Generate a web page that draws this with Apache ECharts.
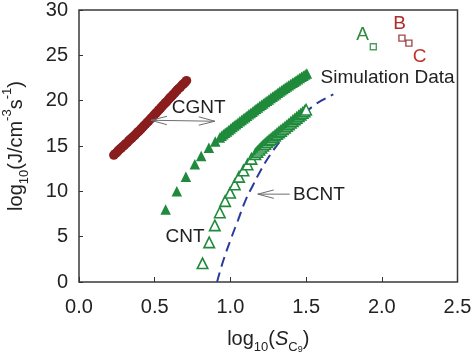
<!DOCTYPE html>
<html><head><meta charset="utf-8">
<script src="https://cdn.jsdelivr.net/npm/echarts@6/dist/echarts.min.js"></script>
<style>html,body{margin:0;padding:0;background:#fff}#c{width:474px;height:360px}</style>
</head><body><div id="c"></div>
<script>
// ---- data ----
const xTicks = [0.0, 0.5, 1.0, 1.5, 2.0, 2.5];
const yTicks = [0, 5, 10, 15, 20, 25, 30];

const cgntX = [0.23,0.24,0.25,0.26,0.27,0.28,0.29,0.30,0.31,0.32,0.33,0.34,0.35,0.36,0.37,0.38,0.39,0.40,0.41,0.42,0.43,0.44,0.45,0.46,0.47,0.48,0.49,0.50,0.51,0.52,0.53,0.54,0.55,0.56,0.57,0.58,0.59,0.60,0.61,0.62,0.63,0.64,0.65,0.66,0.67,0.68,0.69,0.70,0.71];
const cgntY = [14.0,14.15,14.3,14.5,14.65,14.8,14.95,15.1,15.25,15.4,15.6,15.75,15.9,16.05,16.2,16.4,16.55,16.7,16.9,17.05,17.25,17.4,17.6,17.75,17.95,18.1,18.3,18.5,18.65,18.85,19.0,19.2,19.4,19.55,19.75,19.9,20.1,20.3,20.45,20.65,20.8,21.0,21.2,21.35,21.5,21.7,21.85,22.0,22.2];

const cntFilledX = [0.572,0.646,0.706,0.765,0.807,0.858,0.900,0.930,0.942,0.954,0.966,0.978,0.990,1.002,1.014,1.026,1.038,1.050,1.062,1.074,1.086,1.098,1.110,1.122,1.134,1.146,1.158,1.170,1.182,1.194,1.206,1.218,1.230,1.242,1.254,1.266,1.278,1.290,1.302,1.314,1.326,1.338,1.350,1.362,1.374,1.386,1.398,1.410,1.422,1.434,1.446,1.458,1.470,1.482,1.494,1.505];
const cntFilledY = [8.0,10.0,11.6,13.0,13.9,14.8,15.5,15.95,16.12,16.29,16.45,16.61,16.77,16.93,17.09,17.25,17.41,17.56,17.72,17.87,18.03,18.18,18.33,18.49,18.64,18.79,18.95,19.10,19.25,19.40,19.55,19.70,19.85,20.0,20.14,20.29,20.43,20.58,20.72,20.86,21.0,21.14,21.28,21.42,21.56,21.70,21.84,21.97,22.10,22.23,22.37,22.50,22.63,22.76,22.89,23.0];

const cntOpenX = [0.816,0.860,0.897,0.930,0.965,0.998,1.029,1.057,1.086,1.113,1.139,1.165,1.178,1.191,1.204,1.217,1.230,1.243,1.256,1.269,1.282,1.295,1.308,1.321,1.334,1.347,1.360,1.373,1.386,1.399,1.412,1.425,1.438,1.451,1.464,1.477,1.490,1.500];
const cntOpenY = [2.06,4.37,6.24,7.67,8.92,9.84,10.76,11.6,12.3,12.96,13.58,14.1,14.35,14.58,14.8,15.02,15.22,15.42,15.6,15.78,15.96,16.14,16.32,16.5,16.67,16.85,17.02,17.2,17.38,17.56,17.74,17.92,18.1,18.28,18.46,18.64,18.82,19.0];

const bcntX = [0.912,0.95,1.0,1.05,1.1,1.15,1.2,1.25,1.3,1.35,1.4,1.45,1.5,1.55,1.6,1.68];
const bcntY = [0.0,2.2,4.6,6.8,9.0,10.7,12.3,13.7,14.9,16.0,17.1,17.95,18.75,19.45,20.0,20.7];

const simNames = ['A','B','C'];
const simX = [1.944,2.133,2.179];
const simY = [25.95,26.9,26.35];

const zip = (a,b) => a.map((v,i)=>[v,b[i]]);
const FONT = '"Liberation Sans", Arial, sans-serif';
const GREEN = '#1f8a3b', MAROON = '#8a1d1d', BLUE = '#2a3b9c';

const chart = echarts.init(document.getElementById('c'), null, {renderer:'canvas'});
const option = {
  animation: false,
  backgroundColor: '#fff',
  textStyle: {fontFamily: FONT},
  grid: {left: 79, right: 16.5, top: 10, bottom: 78, show: true, borderColor: '#3a3a3a', borderWidth: 1.5, containLabel: false, outerBoundsMode: 'none'},
  xAxis: {
    type: 'value', min: xTicks[0], max: xTicks[xTicks.length-1], interval: 0.5,
    axisLine: {show: false},
    axisTick: {show: true, inside: true, length: 5, lineStyle: {color: '#333', width: 1}},
    splitLine: {show: false},
    axisLabel: {fontSize: 20, color: '#222', margin: 15, fontFamily: FONT, formatter: v => v.toFixed(1)},
    name: '{n|log}{sub|10}{n|(}{i|S}{sub|C}{sub2|9}{n|)}',
    nameLocation: 'middle', nameGap: 42,
    nameTextStyle: {fontFamily: FONT, color: '#222', rich: {
      n: {fontSize: 20, lineHeight: 30, fontFamily: FONT, color: '#222'},
      i: {fontSize: 20, lineHeight: 30, fontStyle: 'italic', fontFamily: FONT, color: '#222'},
      sub: {fontSize: 13, lineHeight: 17, verticalAlign: 'bottom', fontFamily: FONT, color: '#222'},
      sub2: {fontSize: 9, lineHeight: 8, verticalAlign: 'bottom', fontFamily: FONT, color: '#222'}
    }}
  },
  yAxis: {
    type: 'value', min: yTicks[0], max: yTicks[yTicks.length-1], interval: 5,
    axisLine: {show: false},
    axisTick: {show: true, inside: true, length: 4, lineStyle: {color: '#333', width: 1}},
    splitLine: {show: false},
    axisLabel: {fontSize: 20, color: '#222', margin: 11, fontFamily: FONT},
    name: '{n|log}{sub|10}{n|(J/cm}{sup|-3}{n|s}{sup|-1}{n|)}',
    nameLocation: 'middle', nameGap: 48, nameRotate: 90,
    nameTextStyle: {fontFamily: FONT, color: '#222', rich: {
      n: {fontSize: 20, lineHeight: 30, fontFamily: FONT, color: '#222'},
      sub: {fontSize: 13, lineHeight: 17, verticalAlign: 'bottom', fontFamily: FONT, color: '#222'},
      sup: {fontSize: 13, lineHeight: 18, verticalAlign: 'top', fontFamily: FONT, color: '#222'}
    }}
  },
  series: [
    {name: 'BCNT', type: 'line', data: zip(bcntX, bcntY), showSymbol: false, symbol: 'none', smooth: true,
     lineStyle: {color: BLUE, width: 2, type: [10, 6]}, z: 1},
    {name: 'CGNT', type: 'scatter', data: zip(cgntX, cgntY), symbol: 'circle', symbolSize: 9.5,
     itemStyle: {color: MAROON, opacity: 1}, z: 3},
    {name: 'CNT-filled', type: 'scatter', data: zip(cntFilledX, cntFilledY), symbol: 'triangle', symbolSize: 10.5,
     itemStyle: {color: GREEN, opacity: 1}, z: 3},
    {name: 'CNT-open', type: 'scatter', data: zip(cntOpenX, cntOpenY), symbol: 'triangle', symbolSize: 10.5,
     itemStyle: {color: '#fff', borderColor: GREEN, borderWidth: 1.6, opacity: 1}, z: 4},
    {name: 'Sim', type: 'scatter', symbol: 'rect', symbolSize: 6,
     data: simX.map((x,i)=>({value:[x, simY[i]], itemStyle:{color:'#fff', borderColor: i===0?GREEN:MAROON, borderWidth:1.4}})), z: 4}
  ]
};
chart.setOption(option);

// ---- annotations positioned in data coordinates ----
const P = p => chart.convertToPixel({gridIndex: 0}, p);
const texts = [
  {t: 'CGNT', at: [0.79, 19.2], c: '#222'},
  {t: 'BCNT', at: [1.585, 9.58], c: '#222'},
  {t: 'CNT', at: [0.70, 4.96], c: '#222'},
  {t: 'Simulation Data', at: [2.038, 22.58], c: '#222'},
  {t: simNames[0], at: [1.873, 27.3], c: '#2e8b3e'},
  {t: simNames[1], at: [2.117, 28.5], c: '#b02a2a'},
  {t: simNames[2], at: [2.25, 24.8], c: '#c0332f'}
];
const arrows = [
  {from: [0.475, 17.84], to: [0.897, 17.73], both: true},
  {from: [1.392, 9.69], to: [1.181, 9.69], both: false}
];
const g = [];
texts.forEach(o => {
  const p = P(o.at);
  g.push({type: 'text', x: p[0], y: p[1], z: 10,
    style: {text: o.t, fill: o.c, font: '19px ' + FONT, align: 'center', verticalAlign: 'middle', textAlign: 'center', textVerticalAlign: 'middle'}});
});
function head(tip, tail){
  const dx = tip[0]-tail[0], dy = tip[1]-tail[1], L = Math.hypot(dx,dy);
  const ux = dx/L, uy = dy/L, nx = -uy, ny = ux, HL = 16, HW = 4.2;
  return [[tip[0]-HL*ux+HW*nx, tip[1]-HL*uy+HW*ny], tip, [tip[0]-HL*ux-HW*nx, tip[1]-HL*uy-HW*ny]];
}
const ARC = '#6e6e6e';
arrows.forEach(a => {
  const s = P(a.from), e = P(a.to);
  g.push({type:'line', z: 10, shape:{x1:s[0], y1:s[1], x2:e[0], y2:e[1]}, style:{stroke: ARC, lineWidth: 1}});
  g.push({type:'polyline', z: 10, shape:{points: head(e, s)}, style:{stroke: ARC, lineWidth: 1, fill: null}});
  if (a.both) g.push({type:'polyline', z: 10, shape:{points: head(s, e)}, style:{stroke: ARC, lineWidth: 1, fill: null}});
});
chart.setOption({graphic: g});
</script>
</body></html>
